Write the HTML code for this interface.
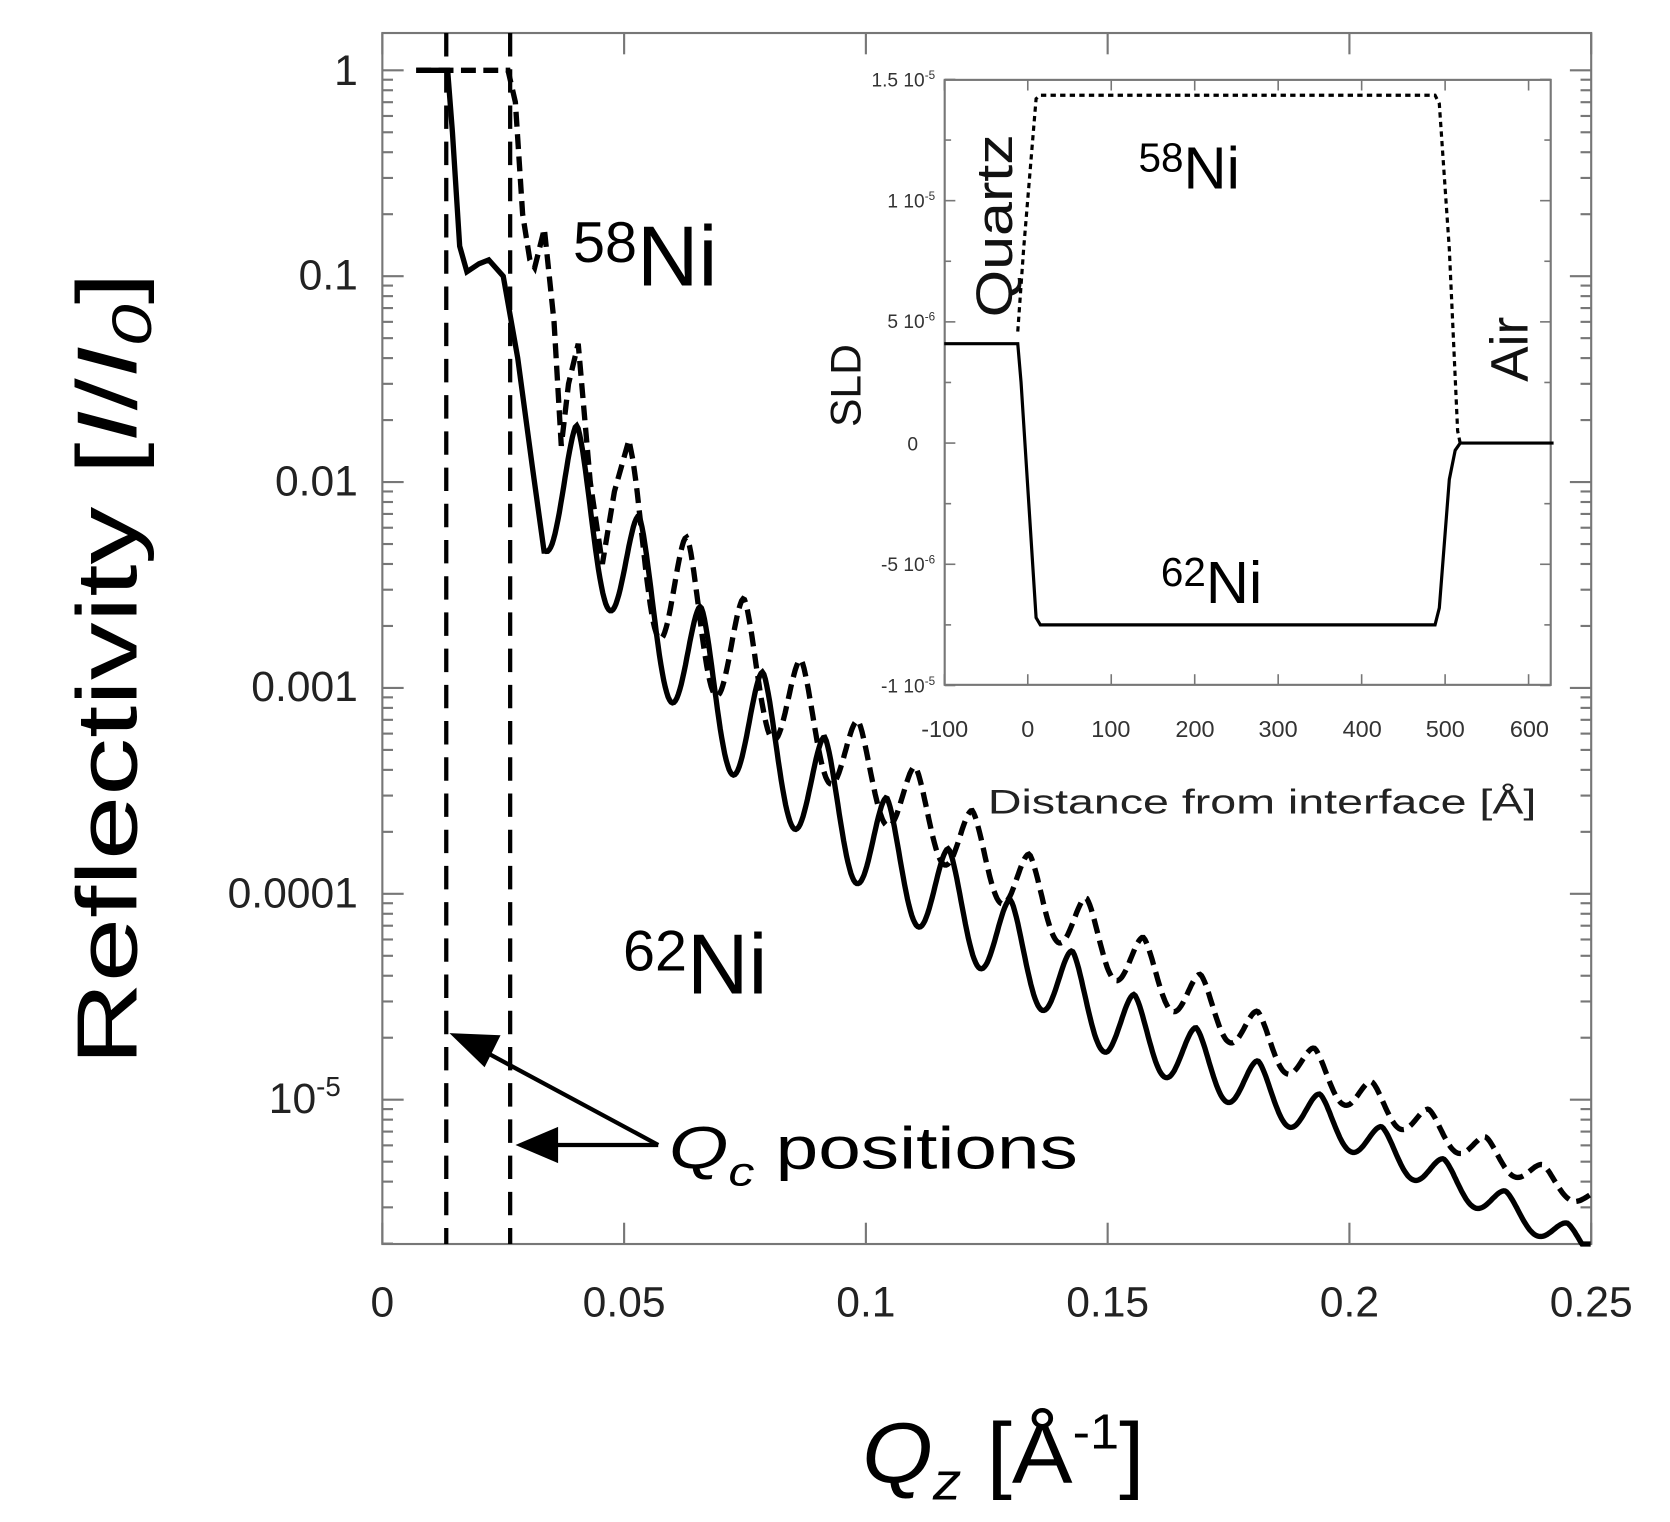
<!DOCTYPE html>
<html><head><meta charset="utf-8"><style>
html,body{margin:0;padding:0;background:#fff;}
svg{display:block;}
text{font-family:"Liberation Sans",sans-serif;}
</style></head><body>
<svg id="s" width="1670" height="1522" viewBox="0 0 1568 1429" preserveAspectRatio="none" xmlns="http://www.w3.org/2000/svg">
<rect x="0" y="0" width="1568" height="1429" fill="#fff"/>
<g id="axes"></g>
<rect x="359" y="31" width="1135" height="1137" fill="none" stroke="#777" stroke-width="2"/>
<g font-size="40" fill="#222" text-anchor="end">
<text x="336" y="80">1</text>
<text x="336" y="272">0.1</text>
<text x="336" y="465">0.01</text>
<text x="336" y="658">0.001</text>
<text x="336" y="852">0.0001</text>
<text x="320" y="1045">10<tspan dy="-16" font-size="26">-5</tspan></text>
</g>
<g font-size="40" fill="#222" text-anchor="middle">
<text x="359" y="1236">0</text>
<text x="586" y="1236">0.05</text>
<text x="813" y="1236">0.1</text>
<text x="1040" y="1236">0.15</text>
<text x="1267" y="1236">0.2</text>
<text x="1494" y="1236">0.25</text>
</g>
<text transform="translate(128,628) rotate(-90)" font-size="80" text-anchor="middle" fill="#000" textLength="745" lengthAdjust="spacingAndGlyphs">Reflectivity [<tspan font-style="italic">I</tspan>/<tspan font-style="italic">I</tspan><tspan font-style="italic" font-size="52" dy="14">0</tspan><tspan dy="-14">]</tspan></text>
<text x="942" y="1392" font-size="80" text-anchor="middle" fill="#000" textLength="265" lengthAdjust="spacingAndGlyphs"><tspan font-style="italic">Q</tspan><tspan font-style="italic" font-size="50" dy="16">z</tspan><tspan dy="-16"> [Å</tspan><tspan font-size="46" dy="-32">-1</tspan><tspan dy="32">]</tspan></text>
<line x1="419" y1="31" x2="419" y2="1168" stroke="#000" stroke-width="4" stroke-dasharray="22,12"/>
<line x1="479" y1="31" x2="479" y2="1168" stroke="#000" stroke-width="4" stroke-dasharray="22,12"/>
<path id="r62" fill="none" stroke="#000" stroke-width="5"/>
<path id="r58" fill="none" stroke="#000" stroke-width="5" stroke-dasharray="14,7"/>
<text x="538" y="268" font-size="80" fill="#000"><tspan font-size="54" dy="-22">58</tspan><tspan dy="22">Ni</tspan></text>
<text x="585" y="933" font-size="80" fill="#000"><tspan font-size="54" dy="-22">62</tspan><tspan dy="22">Ni</tspan></text>
<line x1="618" y1="1075" x2="460" y2="990" stroke="#000" stroke-width="4"/>
<polygon points="422,970 470,972 455,1002" fill="#000"/>
<line x1="618" y1="1075" x2="520" y2="1075" stroke="#000" stroke-width="4"/>
<polygon points="484,1075 524,1058 524,1092" fill="#000"/>
<text x="628" y="1097" font-size="56" fill="#000" textLength="384" lengthAdjust="spacingAndGlyphs"><tspan font-style="italic">Q</tspan><tspan font-style="italic" font-size="38" dy="16">c</tspan><tspan dy="-16"> positions</tspan></text>
<rect x="887" y="75" width="569" height="568" fill="#fff" stroke="#777" stroke-width="2"/>
<g id="inticks"></g>
<g font-size="18" fill="#333" text-anchor="end">
<text x="878" y="81">1.5 10<tspan dy="-7" font-size="11">-5</tspan></text>
<text x="878" y="195">1 10<tspan dy="-7" font-size="11">-5</tspan></text>
<text x="878" y="308">5 10<tspan dy="-7" font-size="11">-6</tspan></text>
<text x="862" y="423">0</text>
<text x="878" y="536">-5 10<tspan dy="-7" font-size="11">-6</tspan></text>
<text x="878" y="650">-1 10<tspan dy="-7" font-size="11">-5</tspan></text>
</g>
<g font-size="22" fill="#333" text-anchor="middle">
<text x="887" y="692">-100</text><text x="965" y="692">0</text><text x="1043" y="692">100</text>
<text x="1122" y="692">200</text><text x="1200" y="692">300</text><text x="1279" y="692">400</text>
<text x="1357" y="692">500</text><text x="1436" y="692">600</text>
</g>
<text x="1185" y="764" font-size="32" text-anchor="middle" fill="#222" textLength="515" lengthAdjust="spacingAndGlyphs">Distance from interface [Å]</text>
<text transform="translate(808,362) rotate(-90)" font-size="40" text-anchor="middle" fill="#111">SLD</text>
<text transform="translate(950,212) rotate(-90)" font-size="48" text-anchor="middle" fill="#111" textLength="172" lengthAdjust="spacingAndGlyphs">Quartz</text>
<text transform="translate(1434,328) rotate(-90)" font-size="50" text-anchor="middle" fill="#111">Air</text>
<text x="1069" y="177" font-size="56" fill="#000"><tspan font-size="38" dy="-16">58</tspan><tspan dy="16">Ni</tspan></text>
<text x="1090" y="566" font-size="56" fill="#000"><tspan font-size="38" dy="-16">62</tspan><tspan dy="16">Ni</tspan></text>
<path id="i62" fill="none" stroke="#000" stroke-width="3"/>
<path id="i58" fill="none" stroke="#000" stroke-width="3" stroke-dasharray="5,4"/>
</svg>
<script>
var X=function(q){return 359+q*4540;};
var Y=function(l){return 66-l*193.3;};
function interp(pts,q){if(q<=pts[0][0])return pts[0][1];for(var i=1;i<pts.length;i++){if(q<=pts[i][0]){var a=pts[i-1],b=pts[i];return a[1]+(b[1]-a[1])*(q-a[0])/(b[0]-a[0]);}}return pts[pts.length-1][1];}
function model(q,mean,amp,q0,P){var m=interp(mean,q),a=interp(amp,q);var s=Math.abs(Math.sin(Math.PI*(q-q0)/P));return m+a*(1-2*Math.pow(s,1.6));}
var m62=[[0.033,-2.0],[0.04,-2.05],[0.066,-2.95],[0.1,-3.72],[0.15,-4.6],[0.2,-5.15],[0.25,-5.72]];
var a62=[[0.033,0.33],[0.066,0.34],[0.1,0.27],[0.15,0.18],[0.2,0.1],[0.25,0.06]];
var m58=[[0.045,-2.0],[0.063,-2.6],[0.1,-3.4],[0.15,-4.25],[0.2,-4.95],[0.25,-5.48]];
var a58=[[0.045,0.4],[0.063,0.33],[0.1,0.2],[0.15,0.15],[0.2,0.09],[0.25,0.05]];
function L(v){return Math.log10(v);}
var e62=[[0.007,1],[0.0135,1],[0.0145,0.5],[0.016,0.14],[0.0175,0.105],[0.02,0.115],[0.022,0.12],[0.025,0.1],[0.028,0.04],[0.031,0.012],[0.0335,0.0045]];
var e58=[[0.007,1],[0.026,1],[0.0275,0.7],[0.029,0.2],[0.0305,0.12],[0.0315,0.11],[0.0335,0.17],[0.0355,0.06],[0.037,0.015],[0.0385,0.03],[0.0405,0.047],[0.043,0.01],[0.0455,0.004],[0.048,0.009],[0.051,0.016]];
function build(early,mean,amp,q0,P,qs){var d='';early.forEach(function(p,i){d+=(i?'L':'M')+X(p[0]).toFixed(1)+','+Y(L(p[1])).toFixed(1);});
for(var q=qs;q<=0.25;q+=0.0003){var y=Y(model(q,mean,amp,q0,P));if(y>1168)y=1168;d+='L'+X(q).toFixed(1)+','+y.toFixed(1);}return d;}
document.getElementById('r62').setAttribute('d',build(e62,m62,a62,0.0915,0.0128,0.0336));
document.getElementById('r58').setAttribute('d',build(e58,m58,a58,0.0630,0.0118,0.0515));
var g=document.getElementById('axes'),h='';
for(var dec=0;dec>=-6;dec--){for(var k=1;k<10;k++){var y=Y(dec+Math.log10(k));if(y<31||y>1168)continue;var len=(k==1)?20:10;
h+='<line x1="359" y1="'+y+'" x2="'+(359+len)+'" y2="'+y+'" stroke="#777" stroke-width="2"/>';
h+='<line x1="1494" y1="'+y+'" x2="'+(1494-len)+'" y2="'+y+'" stroke="#777" stroke-width="2"/>';}}
for(var i=0;i<=5;i++){var x=X(i*0.05);h+='<line x1="'+x+'" y1="1168" x2="'+x+'" y2="1148" stroke="#777" stroke-width="2"/><line x1="'+x+'" y1="31" x2="'+x+'" y2="51" stroke="#777" stroke-width="2"/>';}
g.innerHTML=h;
var IX=function(a){return 965+a*0.7837;};var IY=function(v){return 416-v*22.76;};
var t='';for(var v=-10;v<=15;v+=2.5){var y=IY(v);t+='<line x1="887" y1="'+y+'" x2="'+(887+(v%5==0?10:6))+'" y2="'+y+'" stroke="#777" stroke-width="1.5"/><line x1="1456" y1="'+y+'" x2="'+(1456-(v%5==0?10:6))+'" y2="'+y+'" stroke="#777" stroke-width="1.5"/>';}
for(var a=-100;a<=600;a+=100){var x=IX(a);t+='<line x1="'+x+'" y1="643" x2="'+x+'" y2="633" stroke="#777" stroke-width="1.5"/><line x1="'+x+'" y1="75" x2="'+x+'" y2="85" stroke="#777" stroke-width="1.5"/>';}
document.getElementById('inticks').innerHTML=t;
function P(arr){return arr.map(function(p,i){return (i?'L':'M')+IX(p[0]).toFixed(1)+','+IY(p[1]).toFixed(1);}).join('');}
document.getElementById('i62').setAttribute('d',P([[-100,4.1],[-12,4.1],[-8,2.5],[10,-7.2],[15,-7.5],[488,-7.5],[493,-6.8],[505,-1.5],[512,-0.3],[518,0],[630,0]]));
document.getElementById('i58').setAttribute('d',P([[-12,4.6],[-5,8],[10,14.2],[15,14.35],[488,14.35],[493,14],[505,8],[515,0.5],[518,0]]));
</script>
</body></html>
